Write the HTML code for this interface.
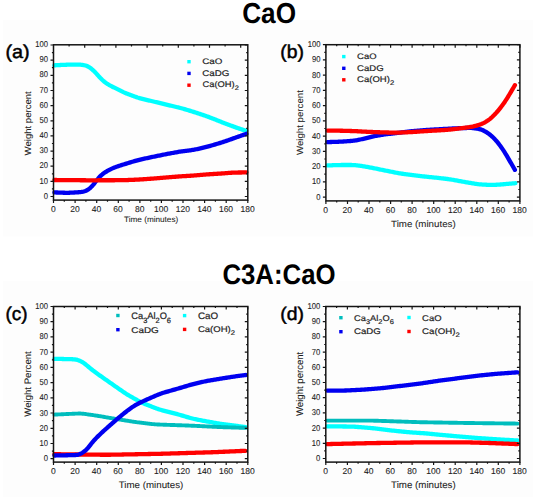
<!DOCTYPE html><html><head><meta charset="utf-8"><style>html,body{margin:0;padding:0;background:#fff;width:533px;height:497px;overflow:hidden}svg{display:block}text{font-family:"Liberation Sans",sans-serif;text-rendering:geometricPrecision}</style></head><body>
<svg width="533" height="497" viewBox="0 0 533 497">
<rect x="0" y="0" width="533" height="497" fill="#ffffff"/>
<rect x="3" y="20" width="530" height="216.5" fill="#fdfdfd"/>
<rect x="3" y="281" width="530" height="216" fill="#fdfdfd"/>
<g fill="none" stroke-width="4.3" stroke-linecap="round" stroke-linejoin="round">
<path d="M54.4,65.30 L55.4,65.25 L56.4,65.20 L57.4,65.14 L58.4,65.09 L59.4,65.04 L60.4,65.00 L61.4,64.95 L62.4,64.91 L63.4,64.87 L64.4,64.83 L65.4,64.79 L66.4,64.75 L67.4,64.72 L68.4,64.70 L69.4,64.68 L70.4,64.66 L71.4,64.65 L72.4,64.63 L73.4,64.62 L74.4,64.61 L75.4,64.61 L76.4,64.61 L77.4,64.61 L78.4,64.62 L79.4,64.65 L80.4,64.70 L81.4,64.78 L82.4,64.89 L83.4,65.04 L84.4,65.24 L85.4,65.50 L86.4,65.83 L87.4,66.24 L88.4,66.74 L89.4,67.33 L90.4,68.02 L91.4,68.79 L92.4,69.63 L93.4,70.55 L94.4,71.53 L95.4,72.56 L96.4,73.63 L97.4,74.73 L98.4,75.84 L99.4,76.93 L100.4,78.00 L101.4,79.02 L102.4,80.00 L103.4,80.90 L104.4,81.75 L105.4,82.53 L106.4,83.25 L107.4,83.92 L108.4,84.54 L109.4,85.13 L110.4,85.69 L111.4,86.21 L112.4,86.71 L113.4,87.20 L114.4,87.68 L115.4,88.15 L116.4,88.63 L117.4,89.13 L118.4,89.63 L119.4,90.15 L120.4,90.66 L121.4,91.18 L122.4,91.68 L123.4,92.16 L124.4,92.61 L125.4,93.04 L126.4,93.45 L127.4,93.84 L128.4,94.22 L129.4,94.60 L130.4,94.97 L131.4,95.34 L132.4,95.71 L133.4,96.08 L134.4,96.45 L135.4,96.81 L136.4,97.15 L137.4,97.49 L138.4,97.80 L139.4,98.09 L140.4,98.36 L141.4,98.62 L142.4,98.87 L143.4,99.11 L144.4,99.35 L145.4,99.59 L146.4,99.83 L147.4,100.06 L148.4,100.30 L149.4,100.54 L150.4,100.78 L151.4,101.01 L152.4,101.25 L153.4,101.49 L154.4,101.73 L155.4,101.97 L156.4,102.20 L157.4,102.44 L158.4,102.68 L159.4,102.92 L160.4,103.15 L161.4,103.39 L162.4,103.63 L163.4,103.87 L164.4,104.11 L165.4,104.34 L166.4,104.58 L167.4,104.82 L168.4,105.06 L169.4,105.30 L170.4,105.54 L171.4,105.78 L172.4,106.02 L173.4,106.26 L174.4,106.50 L175.4,106.74 L176.4,106.98 L177.4,107.22 L178.4,107.46 L179.4,107.72 L180.4,107.98 L181.4,108.24 L182.4,108.52 L183.4,108.81 L184.4,109.11 L185.4,109.41 L186.4,109.71 L187.4,110.01 L188.4,110.31 L189.4,110.62 L190.4,110.92 L191.4,111.23 L192.4,111.53 L193.4,111.85 L194.4,112.16 L195.4,112.49 L196.4,112.81 L197.4,113.14 L198.4,113.48 L199.4,113.81 L200.4,114.15 L201.4,114.48 L202.4,114.82 L203.4,115.16 L204.4,115.49 L205.4,115.83 L206.4,116.18 L207.4,116.53 L208.4,116.89 L209.4,117.26 L210.4,117.64 L211.4,118.03 L212.4,118.42 L213.4,118.81 L214.4,119.21 L215.4,119.61 L216.4,120.01 L217.4,120.41 L218.4,120.81 L219.4,121.20 L220.4,121.60 L221.4,121.99 L222.4,122.38 L223.4,122.77 L224.4,123.15 L225.4,123.53 L226.4,123.90 L227.4,124.28 L228.4,124.65 L229.4,125.03 L230.4,125.40 L231.4,125.77 L232.4,126.14 L233.4,126.52 L234.4,126.88 L235.4,127.25 L236.4,127.60 L237.4,127.95 L238.4,128.30 L239.4,128.63 L240.4,128.96 L241.4,129.29 L242.4,129.61 L243.4,129.93 L244.4,130.25 L245.4,130.58 L246.4,130.90" stroke="#00ffff"/>
<path d="M54.4,192.40 L55.4,192.44 L56.4,192.48 L57.4,192.52 L58.4,192.56 L59.4,192.59 L60.4,192.63 L61.4,192.67 L62.4,192.71 L63.4,192.74 L64.4,192.77 L65.4,192.80 L66.4,192.81 L67.4,192.81 L68.4,192.79 L69.4,192.76 L70.4,192.71 L71.4,192.67 L72.4,192.61 L73.4,192.56 L74.4,192.50 L75.4,192.45 L76.4,192.39 L77.4,192.33 L78.4,192.26 L79.4,192.17 L80.4,192.07 L81.4,191.94 L82.4,191.77 L83.4,191.56 L84.4,191.29 L85.4,190.97 L86.4,190.55 L87.4,190.04 L88.4,189.41 L89.4,188.65 L90.4,187.78 L91.4,186.80 L92.4,185.71 L93.4,184.54 L94.4,183.30 L95.4,182.02 L96.4,180.73 L97.4,179.46 L98.4,178.24 L99.4,177.10 L100.4,176.06 L101.4,175.12 L102.4,174.29 L103.4,173.53 L104.4,172.82 L105.4,172.17 L106.4,171.55 L107.4,170.96 L108.4,170.40 L109.4,169.86 L110.4,169.34 L111.4,168.84 L112.4,168.37 L113.4,167.94 L114.4,167.53 L115.4,167.16 L116.4,166.81 L117.4,166.47 L118.4,166.14 L119.4,165.81 L120.4,165.48 L121.4,165.16 L122.4,164.83 L123.4,164.52 L124.4,164.20 L125.4,163.89 L126.4,163.58 L127.4,163.28 L128.4,162.98 L129.4,162.68 L130.4,162.38 L131.4,162.07 L132.4,161.77 L133.4,161.48 L134.4,161.18 L135.4,160.88 L136.4,160.60 L137.4,160.32 L138.4,160.06 L139.4,159.81 L140.4,159.57 L141.4,159.34 L142.4,159.12 L143.4,158.90 L144.4,158.68 L145.4,158.46 L146.4,158.24 L147.4,158.03 L148.4,157.81 L149.4,157.60 L150.4,157.38 L151.4,157.17 L152.4,156.96 L153.4,156.75 L154.4,156.54 L155.4,156.33 L156.4,156.13 L157.4,155.93 L158.4,155.72 L159.4,155.52 L160.4,155.32 L161.4,155.12 L162.4,154.91 L163.4,154.71 L164.4,154.51 L165.4,154.31 L166.4,154.12 L167.4,153.92 L168.4,153.73 L169.4,153.55 L170.4,153.36 L171.4,153.18 L172.4,152.99 L173.4,152.81 L174.4,152.63 L175.4,152.44 L176.4,152.26 L177.4,152.08 L178.4,151.91 L179.4,151.73 L180.4,151.57 L181.4,151.42 L182.4,151.27 L183.4,151.14 L184.4,151.01 L185.4,150.88 L186.4,150.76 L187.4,150.64 L188.4,150.51 L189.4,150.39 L190.4,150.27 L191.4,150.13 L192.4,149.99 L193.4,149.84 L194.4,149.67 L195.4,149.48 L196.4,149.27 L197.4,149.05 L198.4,148.82 L199.4,148.59 L200.4,148.35 L201.4,148.11 L202.4,147.87 L203.4,147.64 L204.4,147.40 L205.4,147.15 L206.4,146.91 L207.4,146.65 L208.4,146.39 L209.4,146.12 L210.4,145.84 L211.4,145.55 L212.4,145.25 L213.4,144.96 L214.4,144.66 L215.4,144.36 L216.4,144.05 L217.4,143.75 L218.4,143.45 L219.4,143.15 L220.4,142.84 L221.4,142.53 L222.4,142.21 L223.4,141.88 L224.4,141.55 L225.4,141.21 L226.4,140.86 L227.4,140.51 L228.4,140.16 L229.4,139.81 L230.4,139.46 L231.4,139.11 L232.4,138.75 L233.4,138.40 L234.4,138.05 L235.4,137.70 L236.4,137.34 L237.4,136.99 L238.4,136.64 L239.4,136.28 L240.4,135.93 L241.4,135.57 L242.4,135.22 L243.4,134.86 L244.4,134.51 L245.4,134.15 L246.4,133.80" stroke="#0000f0"/>
<path d="M54.4,180.00 L55.4,180.01 L56.4,180.02 L57.4,180.03 L58.4,180.03 L59.4,180.04 L60.4,180.05 L61.4,180.06 L62.4,180.07 L63.4,180.08 L64.4,180.09 L65.4,180.10 L66.4,180.10 L67.4,180.11 L68.4,180.12 L69.4,180.13 L70.4,180.14 L71.4,180.15 L72.4,180.16 L73.4,180.17 L74.4,180.17 L75.4,180.18 L76.4,180.19 L77.4,180.20 L78.4,180.21 L79.4,180.22 L80.4,180.23 L81.4,180.24 L82.4,180.24 L83.4,180.25 L84.4,180.26 L85.4,180.27 L86.4,180.28 L87.4,180.28 L88.4,180.29 L89.4,180.29 L90.4,180.29 L91.4,180.29 L92.4,180.29 L93.4,180.29 L94.4,180.28 L95.4,180.28 L96.4,180.28 L97.4,180.28 L98.4,180.27 L99.4,180.27 L100.4,180.27 L101.4,180.26 L102.4,180.26 L103.4,180.26 L104.4,180.26 L105.4,180.25 L106.4,180.25 L107.4,180.25 L108.4,180.24 L109.4,180.24 L110.4,180.24 L111.4,180.24 L112.4,180.23 L113.4,180.23 L114.4,180.23 L115.4,180.22 L116.4,180.22 L117.4,180.22 L118.4,180.22 L119.4,180.21 L120.4,180.21 L121.4,180.20 L122.4,180.19 L123.4,180.17 L124.4,180.15 L125.4,180.12 L126.4,180.09 L127.4,180.05 L128.4,180.01 L129.4,179.97 L130.4,179.93 L131.4,179.89 L132.4,179.85 L133.4,179.81 L134.4,179.76 L135.4,179.72 L136.4,179.67 L137.4,179.62 L138.4,179.57 L139.4,179.51 L140.4,179.45 L141.4,179.38 L142.4,179.31 L143.4,179.24 L144.4,179.17 L145.4,179.10 L146.4,179.03 L147.4,178.96 L148.4,178.89 L149.4,178.82 L150.4,178.75 L151.4,178.68 L152.4,178.60 L153.4,178.52 L154.4,178.44 L155.4,178.36 L156.4,178.28 L157.4,178.20 L158.4,178.11 L159.4,178.03 L160.4,177.95 L161.4,177.86 L162.4,177.78 L163.4,177.69 L164.4,177.61 L165.4,177.53 L166.4,177.45 L167.4,177.37 L168.4,177.29 L169.4,177.21 L170.4,177.13 L171.4,177.05 L172.4,176.97 L173.4,176.90 L174.4,176.82 L175.4,176.74 L176.4,176.66 L177.4,176.59 L178.4,176.51 L179.4,176.44 L180.4,176.37 L181.4,176.30 L182.4,176.23 L183.4,176.17 L184.4,176.11 L185.4,176.05 L186.4,176.00 L187.4,175.94 L188.4,175.88 L189.4,175.82 L190.4,175.76 L191.4,175.70 L192.4,175.63 L193.4,175.56 L194.4,175.48 L195.4,175.40 L196.4,175.32 L197.4,175.23 L198.4,175.14 L199.4,175.05 L200.4,174.96 L201.4,174.87 L202.4,174.78 L203.4,174.69 L204.4,174.61 L205.4,174.52 L206.4,174.45 L207.4,174.37 L208.4,174.30 L209.4,174.24 L210.4,174.18 L211.4,174.11 L212.4,174.05 L213.4,173.99 L214.4,173.93 L215.4,173.87 L216.4,173.81 L217.4,173.75 L218.4,173.69 L219.4,173.62 L220.4,173.56 L221.4,173.49 L222.4,173.42 L223.4,173.34 L224.4,173.27 L225.4,173.19 L226.4,173.12 L227.4,173.04 L228.4,172.97 L229.4,172.90 L230.4,172.83 L231.4,172.76 L232.4,172.70 L233.4,172.66 L234.4,172.62 L235.4,172.58 L236.4,172.56 L237.4,172.54 L238.4,172.52 L239.4,172.51 L240.4,172.49 L241.4,172.48 L242.4,172.46 L243.4,172.45 L244.4,172.43 L245.4,172.42 L246.4,172.40" stroke="#ff0000"/>
</g>
<g stroke="#141414" fill="none">
<rect x="53.50" y="44.80" width="194.30" height="155.30" stroke-width="1.5"/>
<path d="M50.5,196.5H53.5 M247.8,196.5H244.8 M51.9,188.9H53.5 M247.8,188.9H246.2 M50.5,181.3H53.5 M247.8,181.3H244.8 M51.9,173.8H53.5 M247.8,173.8H246.2 M50.5,166.2H53.5 M247.8,166.2H244.8 M51.9,158.6H53.5 M247.8,158.6H246.2 M50.5,151.1H53.5 M247.8,151.1H244.8 M51.9,143.5H53.5 M247.8,143.5H246.2 M50.5,135.9H53.5 M247.8,135.9H244.8 M51.9,128.3H53.5 M247.8,128.3H246.2 M50.5,120.8H53.5 M247.8,120.8H244.8 M51.9,113.2H53.5 M247.8,113.2H246.2 M50.5,105.6H53.5 M247.8,105.6H244.8 M51.9,98.0H53.5 M247.8,98.0H246.2 M50.5,90.5H53.5 M247.8,90.5H244.8 M51.9,82.9H53.5 M247.8,82.9H246.2 M50.5,75.3H53.5 M247.8,75.3H244.8 M51.9,67.7H53.5 M247.8,67.7H246.2 M50.5,60.2H53.5 M247.8,60.2H244.8 M51.9,52.6H53.5 M247.8,52.6H246.2 M50.5,45.0H53.5 M247.8,45.0H244.8 M53.5,200.1V203.1 M64.3,200.1V201.7 M75.1,200.1V203.1 M85.9,200.1V201.7 M96.7,200.1V203.1 M107.5,200.1V201.7 M118.3,200.1V203.1 M129.1,200.1V201.7 M139.9,200.1V203.1 M150.7,200.1V201.7 M161.4,200.1V203.1 M172.2,200.1V201.7 M183.0,200.1V203.1 M193.8,200.1V201.7 M204.6,200.1V203.1 M215.4,200.1V201.7 M226.2,200.1V203.1 M237.0,200.1V201.7 M247.8,200.1V203.1 M69.1,44.8V46.4 M84.7,44.8V47.8 M100.3,44.8V46.4 M115.9,44.8V47.8 M131.5,44.8V46.4 M147.1,44.8V47.8 M162.7,44.8V46.4 M178.3,44.8V47.8 M193.9,44.8V46.4 M209.5,44.8V47.8 M225.1,44.8V46.4 M240.7,44.8V47.8" stroke-width="1.2"/>
</g>
<g font-size="8.5" fill="#1e1e1e" stroke="#1e1e1e" stroke-width="0.1">
<text transform="translate(48.00,198.65) scale(0.9,1)" text-anchor="end">0</text>
<text transform="translate(48.00,183.50) scale(0.9,1)" text-anchor="end">10</text>
<text transform="translate(48.00,168.35) scale(0.9,1)" text-anchor="end">20</text>
<text transform="translate(48.00,153.20) scale(0.9,1)" text-anchor="end">30</text>
<text transform="translate(48.00,138.05) scale(0.9,1)" text-anchor="end">40</text>
<text transform="translate(48.00,122.90) scale(0.9,1)" text-anchor="end">50</text>
<text transform="translate(48.00,107.75) scale(0.9,1)" text-anchor="end">60</text>
<text transform="translate(48.00,92.60) scale(0.9,1)" text-anchor="end">70</text>
<text transform="translate(48.00,77.45) scale(0.9,1)" text-anchor="end">80</text>
<text transform="translate(48.00,62.30) scale(0.9,1)" text-anchor="end">90</text>
<text transform="translate(48.00,47.15) scale(0.9,1)" text-anchor="end">100</text>
<text x="53.3" y="211.9" text-anchor="middle">0</text>
<text x="74.9" y="211.9" text-anchor="middle">20</text>
<text x="96.5" y="211.9" text-anchor="middle">40</text>
<text x="118.1" y="211.9" text-anchor="middle">60</text>
<text x="139.7" y="211.9" text-anchor="middle">80</text>
<text x="161.2" y="211.9" text-anchor="middle">100</text>
<text x="182.8" y="211.9" text-anchor="middle">120</text>
<text x="204.4" y="211.9" text-anchor="middle">140</text>
<text x="226.0" y="211.9" text-anchor="middle">160</text>
<text x="247.6" y="211.9" text-anchor="middle">180</text>
</g>
<g fill="none" stroke-width="4.3" stroke-linecap="round" stroke-linejoin="round">
<path d="M327.4,142.10 L328.4,142.07 L329.4,142.04 L330.4,142.01 L331.4,141.98 L332.4,141.94 L333.4,141.91 L334.4,141.88 L335.4,141.85 L336.4,141.82 L337.4,141.78 L338.4,141.75 L339.4,141.70 L340.4,141.66 L341.4,141.60 L342.4,141.54 L343.4,141.48 L344.4,141.41 L345.4,141.34 L346.4,141.27 L347.4,141.20 L348.4,141.13 L349.4,141.06 L350.4,140.99 L351.4,140.91 L352.4,140.82 L353.4,140.71 L354.4,140.59 L355.4,140.44 L356.4,140.27 L357.4,140.09 L358.4,139.89 L359.4,139.69 L360.4,139.48 L361.4,139.27 L362.4,139.05 L363.4,138.83 L364.4,138.60 L365.4,138.36 L366.4,138.12 L367.4,137.87 L368.4,137.62 L369.4,137.36 L370.4,137.11 L371.4,136.87 L372.4,136.63 L373.4,136.41 L374.4,136.20 L375.4,136.00 L376.4,135.81 L377.4,135.63 L378.4,135.45 L379.4,135.27 L380.4,135.10 L381.4,134.93 L382.4,134.77 L383.4,134.62 L384.4,134.48 L385.4,134.35 L386.4,134.23 L387.4,134.11 L388.4,133.99 L389.4,133.87 L390.4,133.76 L391.4,133.64 L392.4,133.53 L393.4,133.41 L394.4,133.30 L395.4,133.18 L396.4,133.06 L397.4,132.94 L398.4,132.82 L399.4,132.70 L400.4,132.57 L401.4,132.45 L402.4,132.32 L403.4,132.19 L404.4,132.07 L405.4,131.94 L406.4,131.82 L407.4,131.69 L408.4,131.57 L409.4,131.45 L410.4,131.34 L411.4,131.23 L412.4,131.13 L413.4,131.04 L414.4,130.95 L415.4,130.86 L416.4,130.77 L417.4,130.69 L418.4,130.60 L419.4,130.52 L420.4,130.44 L421.4,130.35 L422.4,130.27 L423.4,130.19 L424.4,130.11 L425.4,130.04 L426.4,129.97 L427.4,129.91 L428.4,129.85 L429.4,129.79 L430.4,129.73 L431.4,129.68 L432.4,129.62 L433.4,129.56 L434.4,129.51 L435.4,129.45 L436.4,129.40 L437.4,129.34 L438.4,129.28 L439.4,129.23 L440.4,129.17 L441.4,129.12 L442.4,129.06 L443.4,129.00 L444.4,128.95 L445.4,128.89 L446.4,128.83 L447.4,128.78 L448.4,128.72 L449.4,128.67 L450.4,128.61 L451.4,128.56 L452.4,128.50 L453.4,128.45 L454.4,128.41 L455.4,128.37 L456.4,128.33 L457.4,128.29 L458.4,128.25 L459.4,128.22 L460.4,128.18 L461.4,128.15 L462.4,128.11 L463.4,128.08 L464.4,128.04 L465.4,128.01 L466.4,127.98 L467.4,127.95 L468.4,127.93 L469.4,127.92 L470.4,127.93 L471.4,127.97 L472.4,128.04 L473.4,128.13 L474.4,128.24 L475.4,128.37 L476.4,128.51 L477.4,128.66 L478.4,128.84 L479.4,129.05 L480.4,129.32 L481.4,129.65 L482.4,130.05 L483.4,130.52 L484.4,131.04 L485.4,131.61 L486.4,132.21 L487.4,132.84 L488.4,133.51 L489.4,134.24 L490.4,135.03 L491.4,135.88 L492.4,136.80 L493.4,137.77 L494.4,138.78 L495.4,139.85 L496.4,140.97 L497.4,142.15 L498.4,143.39 L499.4,144.69 L500.4,146.05 L501.4,147.44 L502.4,148.88 L503.4,150.37 L504.4,151.92 L505.4,153.52 L506.4,155.18 L507.4,156.88 L508.4,158.60 L509.4,160.33 L510.4,162.06 L511.4,163.79 L512.4,165.52 L513.4,167.24 L514.4,168.97 L514.9,169.83" stroke="#0000f0"/>
<path d="M327.4,130.70 L328.4,130.70 L329.4,130.70 L330.4,130.70 L331.4,130.70 L332.4,130.70 L333.4,130.70 L334.4,130.70 L335.4,130.70 L336.4,130.70 L337.4,130.70 L338.4,130.71 L339.4,130.72 L340.4,130.73 L341.4,130.75 L342.4,130.77 L343.4,130.79 L344.4,130.82 L345.4,130.84 L346.4,130.87 L347.4,130.90 L348.4,130.93 L349.4,130.95 L350.4,130.98 L351.4,131.01 L352.4,131.05 L353.4,131.08 L354.4,131.12 L355.4,131.16 L356.4,131.21 L357.4,131.26 L358.4,131.31 L359.4,131.37 L360.4,131.42 L361.4,131.48 L362.4,131.54 L363.4,131.59 L364.4,131.65 L365.4,131.70 L366.4,131.76 L367.4,131.81 L368.4,131.86 L369.4,131.90 L370.4,131.94 L371.4,131.98 L372.4,132.02 L373.4,132.06 L374.4,132.09 L375.4,132.13 L376.4,132.16 L377.4,132.20 L378.4,132.23 L379.4,132.27 L380.4,132.30 L381.4,132.34 L382.4,132.37 L383.4,132.39 L384.4,132.42 L385.4,132.45 L386.4,132.47 L387.4,132.49 L388.4,132.51 L389.4,132.54 L390.4,132.56 L391.4,132.58 L392.4,132.60 L393.4,132.62 L394.4,132.63 L395.4,132.64 L396.4,132.64 L397.4,132.63 L398.4,132.61 L399.4,132.59 L400.4,132.55 L401.4,132.51 L402.4,132.47 L403.4,132.43 L404.4,132.39 L405.4,132.35 L406.4,132.31 L407.4,132.26 L408.4,132.22 L409.4,132.17 L410.4,132.12 L411.4,132.07 L412.4,132.01 L413.4,131.95 L414.4,131.88 L415.4,131.81 L416.4,131.74 L417.4,131.67 L418.4,131.60 L419.4,131.53 L420.4,131.46 L421.4,131.39 L422.4,131.33 L423.4,131.26 L424.4,131.19 L425.4,131.13 L426.4,131.06 L427.4,131.00 L428.4,130.95 L429.4,130.89 L430.4,130.83 L431.4,130.78 L432.4,130.72 L433.4,130.66 L434.4,130.61 L435.4,130.55 L436.4,130.49 L437.4,130.44 L438.4,130.38 L439.4,130.32 L440.4,130.26 L441.4,130.19 L442.4,130.12 L443.4,130.06 L444.4,129.99 L445.4,129.92 L446.4,129.85 L447.4,129.77 L448.4,129.69 L449.4,129.61 L450.4,129.51 L451.4,129.41 L452.4,129.30 L453.4,129.19 L454.4,129.08 L455.4,128.96 L456.4,128.84 L457.4,128.72 L458.4,128.60 L459.4,128.48 L460.4,128.36 L461.4,128.24 L462.4,128.12 L463.4,127.99 L464.4,127.86 L465.4,127.72 L466.4,127.58 L467.4,127.43 L468.4,127.28 L469.4,127.13 L470.4,126.97 L471.4,126.81 L472.4,126.63 L473.4,126.43 L474.4,126.20 L475.4,125.95 L476.4,125.67 L477.4,125.37 L478.4,125.05 L479.4,124.71 L480.4,124.36 L481.4,123.97 L482.4,123.55 L483.4,123.08 L484.4,122.57 L485.4,122.02 L486.4,121.42 L487.4,120.79 L488.4,120.11 L489.4,119.37 L490.4,118.57 L491.4,117.70 L492.4,116.77 L493.4,115.79 L494.4,114.78 L495.4,113.72 L496.4,112.63 L497.4,111.49 L498.4,110.31 L499.4,109.09 L500.4,107.83 L501.4,106.54 L502.4,105.21 L503.4,103.84 L504.4,102.40 L505.4,100.91 L506.4,99.37 L507.4,97.78 L508.4,96.16 L509.4,94.51 L510.4,92.84 L511.4,91.15 L512.4,89.45 L513.4,87.74 L514.4,86.03 L514.9,85.17" stroke="#ff0000"/>
<path d="M327.4,165.40 L328.4,165.37 L329.4,165.34 L330.4,165.31 L331.4,165.28 L332.4,165.24 L333.4,165.21 L334.4,165.18 L335.4,165.15 L336.4,165.12 L337.4,165.09 L338.4,165.07 L339.4,165.05 L340.4,165.03 L341.4,165.02 L342.4,165.01 L343.4,165.00 L344.4,165.00 L345.4,165.00 L346.4,165.00 L347.4,165.00 L348.4,165.00 L349.4,165.00 L350.4,165.01 L351.4,165.02 L352.4,165.04 L353.4,165.07 L354.4,165.13 L355.4,165.20 L356.4,165.30 L357.4,165.41 L358.4,165.54 L359.4,165.68 L360.4,165.82 L361.4,165.96 L362.4,166.11 L363.4,166.26 L364.4,166.42 L365.4,166.59 L366.4,166.77 L367.4,166.95 L368.4,167.14 L369.4,167.33 L370.4,167.52 L371.4,167.71 L372.4,167.91 L373.4,168.10 L374.4,168.30 L375.4,168.50 L376.4,168.70 L377.4,168.90 L378.4,169.11 L379.4,169.32 L380.4,169.52 L381.4,169.73 L382.4,169.94 L383.4,170.15 L384.4,170.36 L385.4,170.56 L386.4,170.77 L387.4,170.97 L388.4,171.17 L389.4,171.37 L390.4,171.57 L391.4,171.76 L392.4,171.96 L393.4,172.16 L394.4,172.35 L395.4,172.55 L396.4,172.74 L397.4,172.93 L398.4,173.11 L399.4,173.29 L400.4,173.45 L401.4,173.60 L402.4,173.75 L403.4,173.88 L404.4,174.02 L405.4,174.15 L406.4,174.28 L407.4,174.42 L408.4,174.55 L409.4,174.68 L410.4,174.81 L411.4,174.94 L412.4,175.08 L413.4,175.21 L414.4,175.34 L415.4,175.47 L416.4,175.60 L417.4,175.73 L418.4,175.85 L419.4,175.97 L420.4,176.08 L421.4,176.19 L422.4,176.30 L423.4,176.40 L424.4,176.51 L425.4,176.61 L426.4,176.71 L427.4,176.81 L428.4,176.91 L429.4,177.02 L430.4,177.12 L431.4,177.22 L432.4,177.32 L433.4,177.42 L434.4,177.52 L435.4,177.63 L436.4,177.73 L437.4,177.83 L438.4,177.94 L439.4,178.05 L440.4,178.16 L441.4,178.28 L442.4,178.40 L443.4,178.51 L444.4,178.63 L445.4,178.75 L446.4,178.88 L447.4,179.00 L448.4,179.13 L449.4,179.27 L450.4,179.42 L451.4,179.58 L452.4,179.75 L453.4,179.93 L454.4,180.11 L455.4,180.29 L456.4,180.47 L457.4,180.65 L458.4,180.84 L459.4,181.02 L460.4,181.20 L461.4,181.38 L462.4,181.57 L463.4,181.75 L464.4,181.93 L465.4,182.11 L466.4,182.29 L467.4,182.46 L468.4,182.63 L469.4,182.80 L470.4,182.97 L471.4,183.13 L472.4,183.29 L473.4,183.46 L474.4,183.61 L475.4,183.77 L476.4,183.92 L477.4,184.05 L478.4,184.18 L479.4,184.28 L480.4,184.38 L481.4,184.46 L482.4,184.53 L483.4,184.59 L484.4,184.65 L485.4,184.71 L486.4,184.77 L487.4,184.82 L488.4,184.86 L489.4,184.89 L490.4,184.90 L491.4,184.90 L492.4,184.88 L493.4,184.85 L494.4,184.82 L495.4,184.78 L496.4,184.74 L497.4,184.69 L498.4,184.64 L499.4,184.58 L500.4,184.51 L501.4,184.44 L502.4,184.35 L503.4,184.26 L504.4,184.17 L505.4,184.07 L506.4,183.98 L507.4,183.89 L508.4,183.80 L509.4,183.72 L510.4,183.63 L511.4,183.55 L512.4,183.47 L513.4,183.39 L514.4,183.31 L515.4,183.22" stroke="#00ffff"/>
</g>
<g stroke="#141414" fill="none">
<rect x="325.90" y="44.70" width="194.00" height="156.20" stroke-width="1.5"/>
<path d="M322.9,197.1H325.9 M519.9,197.1H516.9 M324.3,189.5H325.9 M519.9,189.5H518.3 M322.9,181.9H325.9 M519.9,181.9H516.9 M324.3,174.2H325.9 M519.9,174.2H518.3 M322.9,166.6H325.9 M519.9,166.6H516.9 M324.3,159.0H325.9 M519.9,159.0H518.3 M322.9,151.4H325.9 M519.9,151.4H516.9 M324.3,143.8H325.9 M519.9,143.8H518.3 M322.9,136.1H325.9 M519.9,136.1H516.9 M324.3,128.5H325.9 M519.9,128.5H518.3 M322.9,120.9H325.9 M519.9,120.9H516.9 M324.3,113.3H325.9 M519.9,113.3H518.3 M322.9,105.7H325.9 M519.9,105.7H516.9 M324.3,98.0H325.9 M519.9,98.0H518.3 M322.9,90.4H325.9 M519.9,90.4H516.9 M324.3,82.8H325.9 M519.9,82.8H518.3 M322.9,75.2H325.9 M519.9,75.2H516.9 M324.3,67.6H325.9 M519.9,67.6H518.3 M322.9,59.9H325.9 M519.9,59.9H516.9 M324.3,52.3H325.9 M519.9,52.3H518.3 M322.9,44.7H325.9 M519.9,44.7H516.9 M325.9,200.9V203.9 M325.9,44.7V47.7 M336.7,200.9V202.5 M336.7,44.7V46.3 M347.5,200.9V203.9 M347.5,44.7V47.7 M358.2,200.9V202.5 M358.2,44.7V46.3 M369.0,200.9V203.9 M369.0,44.7V47.7 M379.8,200.9V202.5 M379.8,44.7V46.3 M390.6,200.9V203.9 M390.6,44.7V47.7 M401.3,200.9V202.5 M401.3,44.7V46.3 M412.1,200.9V203.9 M412.1,44.7V47.7 M422.9,200.9V202.5 M422.9,44.7V46.3 M433.7,200.9V203.9 M433.7,44.7V47.7 M444.5,200.9V202.5 M444.5,44.7V46.3 M455.2,200.9V203.9 M455.2,44.7V47.7 M466.0,200.9V202.5 M466.0,44.7V46.3 M476.8,200.9V203.9 M476.8,44.7V47.7 M487.6,200.9V202.5 M487.6,44.7V46.3 M498.3,200.9V203.9 M498.3,44.7V47.7 M509.1,200.9V202.5 M509.1,44.7V46.3 M519.9,200.9V203.9 M519.9,44.7V47.7" stroke-width="1.2"/>
</g>
<g font-size="8.5" fill="#1e1e1e" stroke="#1e1e1e" stroke-width="0.1">
<text transform="translate(320.40,199.65) scale(0.9,1)" text-anchor="end">0</text>
<text transform="translate(320.40,184.41) scale(0.9,1)" text-anchor="end">10</text>
<text transform="translate(320.40,169.17) scale(0.9,1)" text-anchor="end">20</text>
<text transform="translate(320.40,153.93) scale(0.9,1)" text-anchor="end">30</text>
<text transform="translate(320.40,138.69) scale(0.9,1)" text-anchor="end">40</text>
<text transform="translate(320.40,123.45) scale(0.9,1)" text-anchor="end">50</text>
<text transform="translate(320.40,108.21) scale(0.9,1)" text-anchor="end">60</text>
<text transform="translate(320.40,92.97) scale(0.9,1)" text-anchor="end">70</text>
<text transform="translate(320.40,77.73) scale(0.9,1)" text-anchor="end">80</text>
<text transform="translate(320.40,62.49) scale(0.9,1)" text-anchor="end">90</text>
<text transform="translate(320.40,47.25) scale(0.9,1)" text-anchor="end">100</text>
<text x="325.7" y="212.7" text-anchor="middle">0</text>
<text x="347.3" y="212.7" text-anchor="middle">20</text>
<text x="368.8" y="212.7" text-anchor="middle">40</text>
<text x="390.4" y="212.7" text-anchor="middle">60</text>
<text x="411.9" y="212.7" text-anchor="middle">80</text>
<text x="433.5" y="212.7" text-anchor="middle">100</text>
<text x="455.0" y="212.7" text-anchor="middle">120</text>
<text x="476.6" y="212.7" text-anchor="middle">140</text>
<text x="498.1" y="212.7" text-anchor="middle">160</text>
<text x="519.7" y="212.7" text-anchor="middle">180</text>
</g>
<g fill="none" stroke-width="4.3" stroke-linecap="round" stroke-linejoin="round">
<path d="M54.4,358.80 L55.4,358.82 L56.4,358.85 L57.4,358.87 L58.4,358.89 L59.4,358.91 L60.4,358.94 L61.4,358.96 L62.4,358.98 L63.4,359.00 L64.4,359.03 L65.4,359.05 L66.4,359.07 L67.4,359.09 L68.4,359.12 L69.4,359.14 L70.4,359.16 L71.4,359.19 L72.4,359.23 L73.4,359.28 L74.4,359.36 L75.4,359.50 L76.4,359.68 L77.4,359.94 L78.4,360.26 L79.4,360.64 L80.4,361.08 L81.4,361.58 L82.4,362.14 L83.4,362.77 L84.4,363.47 L85.4,364.24 L86.4,365.05 L87.4,365.89 L88.4,366.74 L89.4,367.60 L90.4,368.44 L91.4,369.26 L92.4,370.05 L93.4,370.83 L94.4,371.57 L95.4,372.31 L96.4,373.03 L97.4,373.74 L98.4,374.46 L99.4,375.17 L100.4,375.87 L101.4,376.58 L102.4,377.29 L103.4,377.99 L104.4,378.70 L105.4,379.40 L106.4,380.10 L107.4,380.80 L108.4,381.50 L109.4,382.20 L110.4,382.90 L111.4,383.60 L112.4,384.30 L113.4,384.99 L114.4,385.69 L115.4,386.39 L116.4,387.08 L117.4,387.78 L118.4,388.48 L119.4,389.17 L120.4,389.87 L121.4,390.57 L122.4,391.26 L123.4,391.95 L124.4,392.63 L125.4,393.30 L126.4,393.95 L127.4,394.58 L128.4,395.18 L129.4,395.77 L130.4,396.35 L131.4,396.92 L132.4,397.48 L133.4,398.04 L134.4,398.60 L135.4,399.16 L136.4,399.72 L137.4,400.27 L138.4,400.83 L139.4,401.37 L140.4,401.89 L141.4,402.39 L142.4,402.87 L143.4,403.32 L144.4,403.74 L145.4,404.15 L146.4,404.55 L147.4,404.95 L148.4,405.34 L149.4,405.73 L150.4,406.12 L151.4,406.51 L152.4,406.90 L153.4,407.29 L154.4,407.68 L155.4,408.06 L156.4,408.43 L157.4,408.79 L158.4,409.14 L159.4,409.46 L160.4,409.76 L161.4,410.04 L162.4,410.31 L163.4,410.57 L164.4,410.83 L165.4,411.08 L166.4,411.34 L167.4,411.59 L168.4,411.85 L169.4,412.11 L170.4,412.36 L171.4,412.62 L172.4,412.87 L173.4,413.13 L174.4,413.38 L175.4,413.64 L176.4,413.91 L177.4,414.18 L178.4,414.46 L179.4,414.74 L180.4,415.03 L181.4,415.33 L182.4,415.62 L183.4,415.92 L184.4,416.22 L185.4,416.53 L186.4,416.83 L187.4,417.12 L188.4,417.42 L189.4,417.71 L190.4,418.00 L191.4,418.27 L192.4,418.52 L193.4,418.76 L194.4,418.98 L195.4,419.19 L196.4,419.40 L197.4,419.60 L198.4,419.79 L199.4,419.99 L200.4,420.19 L201.4,420.38 L202.4,420.58 L203.4,420.77 L204.4,420.96 L205.4,421.15 L206.4,421.34 L207.4,421.53 L208.4,421.71 L209.4,421.89 L210.4,422.06 L211.4,422.24 L212.4,422.41 L213.4,422.59 L214.4,422.76 L215.4,422.94 L216.4,423.11 L217.4,423.28 L218.4,423.45 L219.4,423.62 L220.4,423.78 L221.4,423.93 L222.4,424.07 L223.4,424.21 L224.4,424.34 L225.4,424.47 L226.4,424.60 L227.4,424.72 L228.4,424.85 L229.4,424.98 L230.4,425.10 L231.4,425.23 L232.4,425.36 L233.4,425.49 L234.4,425.61 L235.4,425.74 L236.4,425.87 L237.4,426.00 L238.4,426.13 L239.4,426.26 L240.4,426.39 L241.4,426.52 L242.4,426.65 L243.4,426.78 L244.4,426.91 L245.4,427.04 L245.9,427.10" stroke="#00ffff"/>
<path d="M54.4,414.60 L55.4,414.55 L56.4,414.51 L57.4,414.46 L58.4,414.42 L59.4,414.37 L60.4,414.33 L61.4,414.28 L62.4,414.24 L63.4,414.19 L64.4,414.15 L65.4,414.10 L66.4,414.06 L67.4,414.01 L68.4,413.97 L69.4,413.92 L70.4,413.88 L71.4,413.83 L72.4,413.79 L73.4,413.74 L74.4,413.70 L75.4,413.65 L76.4,413.61 L77.4,413.58 L78.4,413.55 L79.4,413.55 L80.4,413.56 L81.4,413.61 L82.4,413.69 L83.4,413.79 L84.4,413.91 L85.4,414.04 L86.4,414.18 L87.4,414.32 L88.4,414.47 L89.4,414.61 L90.4,414.75 L91.4,414.90 L92.4,415.04 L93.4,415.19 L94.4,415.34 L95.4,415.49 L96.4,415.64 L97.4,415.80 L98.4,415.95 L99.4,416.12 L100.4,416.28 L101.4,416.45 L102.4,416.62 L103.4,416.79 L104.4,416.96 L105.4,417.13 L106.4,417.30 L107.4,417.47 L108.4,417.64 L109.4,417.81 L110.4,417.99 L111.4,418.16 L112.4,418.33 L113.4,418.50 L114.4,418.67 L115.4,418.84 L116.4,419.01 L117.4,419.17 L118.4,419.34 L119.4,419.50 L120.4,419.66 L121.4,419.82 L122.4,419.98 L123.4,420.14 L124.4,420.30 L125.4,420.46 L126.4,420.62 L127.4,420.78 L128.4,420.94 L129.4,421.10 L130.4,421.26 L131.4,421.42 L132.4,421.58 L133.4,421.73 L134.4,421.88 L135.4,422.03 L136.4,422.17 L137.4,422.31 L138.4,422.44 L139.4,422.56 L140.4,422.68 L141.4,422.80 L142.4,422.92 L143.4,423.04 L144.4,423.15 L145.4,423.27 L146.4,423.39 L147.4,423.51 L148.4,423.62 L149.4,423.74 L150.4,423.86 L151.4,423.97 L152.4,424.08 L153.4,424.18 L154.4,424.27 L155.4,424.35 L156.4,424.41 L157.4,424.47 L158.4,424.51 L159.4,424.55 L160.4,424.59 L161.4,424.62 L162.4,424.66 L163.4,424.69 L164.4,424.73 L165.4,424.76 L166.4,424.80 L167.4,424.83 L168.4,424.87 L169.4,424.90 L170.4,424.94 L171.4,424.97 L172.4,425.01 L173.4,425.04 L174.4,425.07 L175.4,425.11 L176.4,425.14 L177.4,425.18 L178.4,425.21 L179.4,425.25 L180.4,425.28 L181.4,425.32 L182.4,425.35 L183.4,425.39 L184.4,425.42 L185.4,425.46 L186.4,425.49 L187.4,425.53 L188.4,425.56 L189.4,425.60 L190.4,425.64 L191.4,425.68 L192.4,425.72 L193.4,425.76 L194.4,425.81 L195.4,425.85 L196.4,425.90 L197.4,425.95 L198.4,426.00 L199.4,426.05 L200.4,426.10 L201.4,426.15 L202.4,426.19 L203.4,426.24 L204.4,426.29 L205.4,426.34 L206.4,426.39 L207.4,426.44 L208.4,426.49 L209.4,426.54 L210.4,426.59 L211.4,426.63 L212.4,426.68 L213.4,426.73 L214.4,426.78 L215.4,426.83 L216.4,426.88 L217.4,426.93 L218.4,426.97 L219.4,427.02 L220.4,427.06 L221.4,427.10 L222.4,427.14 L223.4,427.18 L224.4,427.21 L225.4,427.24 L226.4,427.28 L227.4,427.31 L228.4,427.34 L229.4,427.37 L230.4,427.40 L231.4,427.44 L232.4,427.47 L233.4,427.50 L234.4,427.53 L235.4,427.56 L236.4,427.60 L237.4,427.63 L238.4,427.66 L239.4,427.69 L240.4,427.72 L241.4,427.76 L242.4,427.79 L243.4,427.82 L244.4,427.85 L245.4,427.88 L245.9,427.90" stroke="#00bdbd" stroke-width="3.9"/>
<path d="M54.4,454.20 L55.4,454.21 L56.4,454.22 L57.4,454.24 L58.4,454.25 L59.4,454.26 L60.4,454.27 L61.4,454.28 L62.4,454.29 L63.4,454.31 L64.4,454.32 L65.4,454.33 L66.4,454.34 L67.4,454.35 L68.4,454.36 L69.4,454.38 L70.4,454.39 L71.4,454.40 L72.4,454.41 L73.4,454.42 L74.4,454.43 L75.4,454.45 L76.4,454.46 L77.4,454.47 L78.4,454.48 L79.4,454.49 L80.4,454.50 L81.4,454.52 L82.4,454.53 L83.4,454.54 L84.4,454.55 L85.4,454.56 L86.4,454.57 L87.4,454.58 L88.4,454.59 L89.4,454.60 L90.4,454.62 L91.4,454.63 L92.4,454.64 L93.4,454.65 L94.4,454.66 L95.4,454.67 L96.4,454.68 L97.4,454.69 L98.4,454.70 L99.4,454.72 L100.4,454.73 L101.4,454.74 L102.4,454.75 L103.4,454.76 L104.4,454.77 L105.4,454.77 L106.4,454.77 L107.4,454.77 L108.4,454.76 L109.4,454.75 L110.4,454.73 L111.4,454.72 L112.4,454.70 L113.4,454.68 L114.4,454.66 L115.4,454.64 L116.4,454.62 L117.4,454.60 L118.4,454.59 L119.4,454.57 L120.4,454.55 L121.4,454.53 L122.4,454.51 L123.4,454.49 L124.4,454.47 L125.4,454.45 L126.4,454.44 L127.4,454.42 L128.4,454.40 L129.4,454.38 L130.4,454.36 L131.4,454.34 L132.4,454.32 L133.4,454.30 L134.4,454.29 L135.4,454.27 L136.4,454.25 L137.4,454.23 L138.4,454.21 L139.4,454.19 L140.4,454.17 L141.4,454.15 L142.4,454.14 L143.4,454.12 L144.4,454.10 L145.4,454.08 L146.4,454.06 L147.4,454.04 L148.4,454.02 L149.4,454.00 L150.4,453.99 L151.4,453.97 L152.4,453.95 L153.4,453.93 L154.4,453.91 L155.4,453.89 L156.4,453.87 L157.4,453.85 L158.4,453.83 L159.4,453.81 L160.4,453.79 L161.4,453.76 L162.4,453.73 L163.4,453.71 L164.4,453.68 L165.4,453.65 L166.4,453.62 L167.4,453.59 L168.4,453.56 L169.4,453.53 L170.4,453.50 L171.4,453.47 L172.4,453.44 L173.4,453.41 L174.4,453.38 L175.4,453.35 L176.4,453.32 L177.4,453.29 L178.4,453.26 L179.4,453.23 L180.4,453.20 L181.4,453.17 L182.4,453.14 L183.4,453.11 L184.4,453.08 L185.4,453.05 L186.4,453.02 L187.4,452.99 L188.4,452.96 L189.4,452.93 L190.4,452.90 L191.4,452.87 L192.4,452.84 L193.4,452.81 L194.4,452.78 L195.4,452.75 L196.4,452.72 L197.4,452.69 L198.4,452.66 L199.4,452.63 L200.4,452.60 L201.4,452.57 L202.4,452.54 L203.4,452.51 L204.4,452.48 L205.4,452.45 L206.4,452.42 L207.4,452.39 L208.4,452.36 L209.4,452.33 L210.4,452.29 L211.4,452.26 L212.4,452.23 L213.4,452.19 L214.4,452.16 L215.4,452.12 L216.4,452.07 L217.4,452.03 L218.4,451.99 L219.4,451.95 L220.4,451.90 L221.4,451.86 L222.4,451.81 L223.4,451.77 L224.4,451.73 L225.4,451.68 L226.4,451.64 L227.4,451.59 L228.4,451.55 L229.4,451.51 L230.4,451.46 L231.4,451.42 L232.4,451.37 L233.4,451.33 L234.4,451.29 L235.4,451.24 L236.4,451.20 L237.4,451.16 L238.4,451.11 L239.4,451.07 L240.4,451.02 L241.4,450.98 L242.4,450.94 L243.4,450.89 L244.4,450.85 L245.4,450.80" stroke="#ff0000"/>
<path d="M54.4,455.50 L55.4,455.48 L56.4,455.46 L57.4,455.44 L58.4,455.42 L59.4,455.40 L60.4,455.38 L61.4,455.36 L62.4,455.34 L63.4,455.32 L64.4,455.30 L65.4,455.28 L66.4,455.26 L67.4,455.24 L68.4,455.22 L69.4,455.20 L70.4,455.17 L71.4,455.15 L72.4,455.13 L73.4,455.11 L74.4,455.08 L75.4,455.02 L76.4,454.94 L77.4,454.79 L78.4,454.57 L79.4,454.25 L80.4,453.83 L81.4,453.32 L82.4,452.73 L83.4,452.07 L84.4,451.33 L85.4,450.50 L86.4,449.56 L87.4,448.51 L88.4,447.34 L89.4,446.11 L90.4,444.83 L91.4,443.55 L92.4,442.31 L93.4,441.12 L94.4,439.99 L95.4,438.92 L96.4,437.88 L97.4,436.88 L98.4,435.89 L99.4,434.92 L100.4,433.96 L101.4,433.02 L102.4,432.10 L103.4,431.19 L104.4,430.28 L105.4,429.39 L106.4,428.50 L107.4,427.61 L108.4,426.72 L109.4,425.83 L110.4,424.95 L111.4,424.07 L112.4,423.19 L113.4,422.32 L114.4,421.44 L115.4,420.57 L116.4,419.71 L117.4,418.85 L118.4,418.00 L119.4,417.15 L120.4,416.32 L121.4,415.49 L122.4,414.66 L123.4,413.84 L124.4,413.03 L125.4,412.23 L126.4,411.44 L127.4,410.67 L128.4,409.92 L129.4,409.19 L130.4,408.48 L131.4,407.78 L132.4,407.09 L133.4,406.43 L134.4,405.79 L135.4,405.19 L136.4,404.61 L137.4,404.07 L138.4,403.54 L139.4,403.04 L140.4,402.54 L141.4,402.06 L142.4,401.58 L143.4,401.11 L144.4,400.65 L145.4,400.20 L146.4,399.75 L147.4,399.31 L148.4,398.87 L149.4,398.44 L150.4,398.00 L151.4,397.56 L152.4,397.13 L153.4,396.69 L154.4,396.25 L155.4,395.82 L156.4,395.38 L157.4,394.96 L158.4,394.54 L159.4,394.14 L160.4,393.76 L161.4,393.41 L162.4,393.07 L163.4,392.76 L164.4,392.46 L165.4,392.17 L166.4,391.89 L167.4,391.60 L168.4,391.32 L169.4,391.04 L170.4,390.75 L171.4,390.47 L172.4,390.19 L173.4,389.90 L174.4,389.62 L175.4,389.33 L176.4,389.05 L177.4,388.76 L178.4,388.47 L179.4,388.17 L180.4,387.87 L181.4,387.58 L182.4,387.28 L183.4,386.98 L184.4,386.68 L185.4,386.37 L186.4,386.07 L187.4,385.77 L188.4,385.48 L189.4,385.18 L190.4,384.89 L191.4,384.61 L192.4,384.34 L193.4,384.08 L194.4,383.83 L195.4,383.59 L196.4,383.36 L197.4,383.12 L198.4,382.89 L199.4,382.66 L200.4,382.43 L201.4,382.20 L202.4,381.97 L203.4,381.75 L204.4,381.52 L205.4,381.31 L206.4,381.10 L207.4,380.91 L208.4,380.72 L209.4,380.54 L210.4,380.37 L211.4,380.20 L212.4,380.03 L213.4,379.86 L214.4,379.69 L215.4,379.52 L216.4,379.36 L217.4,379.19 L218.4,379.02 L219.4,378.86 L220.4,378.69 L221.4,378.53 L222.4,378.37 L223.4,378.22 L224.4,378.06 L225.4,377.90 L226.4,377.75 L227.4,377.59 L228.4,377.44 L229.4,377.28 L230.4,377.13 L231.4,376.98 L232.4,376.82 L233.4,376.67 L234.4,376.53 L235.4,376.38 L236.4,376.24 L237.4,376.11 L238.4,375.97 L239.4,375.84 L240.4,375.71 L241.4,375.58 L242.4,375.45 L243.4,375.32 L244.4,375.19 L245.4,375.06 L245.9,375.00" stroke="#0000f0"/>
</g>
<g stroke="#141414" fill="none">
<rect x="53.50" y="306.50" width="194.30" height="155.60" stroke-width="1.5"/>
<path d="M50.5,458.7H53.5 M247.8,458.7H244.8 M51.9,451.1H53.5 M247.8,451.1H246.2 M50.5,443.5H53.5 M247.8,443.5H244.8 M51.9,435.9H53.5 M247.8,435.9H246.2 M50.5,428.3H53.5 M247.8,428.3H244.8 M51.9,420.6H53.5 M247.8,420.6H246.2 M50.5,413.0H53.5 M247.8,413.0H244.8 M51.9,405.4H53.5 M247.8,405.4H246.2 M50.5,397.8H53.5 M247.8,397.8H244.8 M51.9,390.2H53.5 M247.8,390.2H246.2 M50.5,382.6H53.5 M247.8,382.6H244.8 M51.9,375.0H53.5 M247.8,375.0H246.2 M50.5,367.4H53.5 M247.8,367.4H244.8 M51.9,359.8H53.5 M247.8,359.8H246.2 M50.5,352.2H53.5 M247.8,352.2H244.8 M51.9,344.6H53.5 M247.8,344.6H246.2 M50.5,336.9H53.5 M247.8,336.9H244.8 M51.9,329.3H53.5 M247.8,329.3H246.2 M50.5,321.7H53.5 M247.8,321.7H244.8 M51.9,314.1H53.5 M247.8,314.1H246.2 M50.5,306.5H53.5 M247.8,306.5H244.8 M53.5,462.1V465.1 M53.5,306.5V309.5 M64.3,462.1V463.7 M64.3,306.5V308.1 M75.1,462.1V465.1 M75.1,306.5V309.5 M85.9,462.1V463.7 M85.9,306.5V308.1 M96.7,462.1V465.1 M96.7,306.5V309.5 M107.5,462.1V463.7 M107.5,306.5V308.1 M118.3,462.1V465.1 M118.3,306.5V309.5 M129.1,462.1V463.7 M129.1,306.5V308.1 M139.9,462.1V465.1 M139.9,306.5V309.5 M150.7,462.1V463.7 M150.7,306.5V308.1 M161.4,462.1V465.1 M161.4,306.5V309.5 M172.2,462.1V463.7 M172.2,306.5V308.1 M183.0,462.1V465.1 M183.0,306.5V309.5 M193.8,462.1V463.7 M193.8,306.5V308.1 M204.6,462.1V465.1 M204.6,306.5V309.5 M215.4,462.1V463.7 M215.4,306.5V308.1 M226.2,462.1V465.1 M226.2,306.5V309.5 M237.0,462.1V463.7 M237.0,306.5V308.1 M247.8,462.1V465.1 M247.8,306.5V309.5" stroke-width="1.2"/>
</g>
<g font-size="8.5" fill="#1e1e1e" stroke="#1e1e1e" stroke-width="0.1">
<text transform="translate(48.00,461.25) scale(0.9,1)" text-anchor="end">0</text>
<text transform="translate(48.00,446.03) scale(0.9,1)" text-anchor="end">10</text>
<text transform="translate(48.00,430.81) scale(0.9,1)" text-anchor="end">20</text>
<text transform="translate(48.00,415.59) scale(0.9,1)" text-anchor="end">30</text>
<text transform="translate(48.00,400.37) scale(0.9,1)" text-anchor="end">40</text>
<text transform="translate(48.00,385.15) scale(0.9,1)" text-anchor="end">50</text>
<text transform="translate(48.00,369.93) scale(0.9,1)" text-anchor="end">60</text>
<text transform="translate(48.00,354.71) scale(0.9,1)" text-anchor="end">70</text>
<text transform="translate(48.00,339.49) scale(0.9,1)" text-anchor="end">80</text>
<text transform="translate(48.00,324.27) scale(0.9,1)" text-anchor="end">90</text>
<text transform="translate(48.00,309.05) scale(0.9,1)" text-anchor="end">100</text>
<text x="53.3" y="473.9" text-anchor="middle">0</text>
<text x="74.9" y="473.9" text-anchor="middle">20</text>
<text x="96.5" y="473.9" text-anchor="middle">40</text>
<text x="118.1" y="473.9" text-anchor="middle">60</text>
<text x="139.7" y="473.9" text-anchor="middle">80</text>
<text x="161.2" y="473.9" text-anchor="middle">100</text>
<text x="182.8" y="473.9" text-anchor="middle">120</text>
<text x="204.4" y="473.9" text-anchor="middle">140</text>
<text x="226.0" y="473.9" text-anchor="middle">160</text>
<text x="247.6" y="473.9" text-anchor="middle">180</text>
</g>
<g fill="none" stroke-width="4.3" stroke-linecap="round" stroke-linejoin="round">
<path d="M327.0,390.60 L328.0,390.60 L329.0,390.60 L330.0,390.60 L331.0,390.60 L332.0,390.60 L333.0,390.60 L334.0,390.60 L335.0,390.60 L336.0,390.60 L337.0,390.60 L338.0,390.60 L339.0,390.60 L340.0,390.60 L341.0,390.59 L342.0,390.58 L343.0,390.57 L344.0,390.55 L345.0,390.52 L346.0,390.48 L347.0,390.44 L348.0,390.40 L349.0,390.35 L350.0,390.30 L351.0,390.25 L352.0,390.21 L353.0,390.16 L354.0,390.11 L355.0,390.06 L356.0,390.01 L357.0,389.96 L358.0,389.92 L359.0,389.87 L360.0,389.81 L361.0,389.76 L362.0,389.70 L363.0,389.64 L364.0,389.57 L365.0,389.49 L366.0,389.42 L367.0,389.34 L368.0,389.26 L369.0,389.18 L370.0,389.10 L371.0,389.02 L372.0,388.94 L373.0,388.86 L374.0,388.78 L375.0,388.70 L376.0,388.62 L377.0,388.54 L378.0,388.46 L379.0,388.37 L380.0,388.29 L381.0,388.19 L382.0,388.09 L383.0,387.99 L384.0,387.88 L385.0,387.76 L386.0,387.65 L387.0,387.53 L388.0,387.41 L389.0,387.29 L390.0,387.18 L391.0,387.06 L392.0,386.94 L393.0,386.82 L394.0,386.71 L395.0,386.59 L396.0,386.47 L397.0,386.35 L398.0,386.23 L399.0,386.12 L400.0,386.00 L401.0,385.88 L402.0,385.76 L403.0,385.64 L404.0,385.52 L405.0,385.40 L406.0,385.28 L407.0,385.16 L408.0,385.04 L409.0,384.92 L410.0,384.80 L411.0,384.68 L412.0,384.56 L413.0,384.44 L414.0,384.32 L415.0,384.20 L416.0,384.08 L417.0,383.96 L418.0,383.83 L419.0,383.70 L420.0,383.57 L421.0,383.43 L422.0,383.29 L423.0,383.14 L424.0,382.99 L425.0,382.84 L426.0,382.69 L427.0,382.54 L428.0,382.39 L429.0,382.23 L430.0,382.08 L431.0,381.93 L432.0,381.78 L433.0,381.63 L434.0,381.47 L435.0,381.32 L436.0,381.17 L437.0,381.02 L438.0,380.88 L439.0,380.74 L440.0,380.60 L441.0,380.46 L442.0,380.33 L443.0,380.19 L444.0,380.06 L445.0,379.93 L446.0,379.80 L447.0,379.67 L448.0,379.54 L449.0,379.41 L450.0,379.28 L451.0,379.15 L452.0,379.02 L453.0,378.89 L454.0,378.76 L455.0,378.63 L456.0,378.50 L457.0,378.37 L458.0,378.24 L459.0,378.11 L460.0,377.98 L461.0,377.85 L462.0,377.72 L463.0,377.58 L464.0,377.45 L465.0,377.32 L466.0,377.19 L467.0,377.06 L468.0,376.93 L469.0,376.80 L470.0,376.67 L471.0,376.54 L472.0,376.41 L473.0,376.28 L474.0,376.15 L475.0,376.02 L476.0,375.90 L477.0,375.78 L478.0,375.66 L479.0,375.55 L480.0,375.45 L481.0,375.35 L482.0,375.25 L483.0,375.15 L484.0,375.05 L485.0,374.95 L486.0,374.85 L487.0,374.75 L488.0,374.65 L489.0,374.55 L490.0,374.45 L491.0,374.35 L492.0,374.26 L493.0,374.16 L494.0,374.06 L495.0,373.97 L496.0,373.88 L497.0,373.79 L498.0,373.71 L499.0,373.63 L500.0,373.56 L501.0,373.49 L502.0,373.41 L503.0,373.34 L504.0,373.27 L505.0,373.20 L506.0,373.13 L507.0,373.06 L508.0,372.99 L509.0,372.91 L510.0,372.84 L511.0,372.77 L512.0,372.70 L513.0,372.63 L514.0,372.56 L515.0,372.49 L516.0,372.41 L517.0,372.34 L517.5,372.31" stroke="#0000f0"/>
<path d="M327.0,420.60 L328.0,420.60 L329.0,420.60 L330.0,420.60 L331.0,420.60 L332.0,420.60 L333.0,420.60 L334.0,420.60 L335.0,420.60 L336.0,420.60 L337.0,420.60 L338.0,420.60 L339.0,420.60 L340.0,420.60 L341.0,420.60 L342.0,420.60 L343.0,420.60 L344.0,420.60 L345.0,420.60 L346.0,420.60 L347.0,420.60 L348.0,420.60 L349.0,420.60 L350.0,420.60 L351.0,420.60 L352.0,420.60 L353.0,420.60 L354.0,420.60 L355.0,420.60 L356.0,420.60 L357.0,420.60 L358.0,420.60 L359.0,420.60 L360.0,420.60 L361.0,420.60 L362.0,420.60 L363.0,420.60 L364.0,420.60 L365.0,420.60 L366.0,420.60 L367.0,420.60 L368.0,420.60 L369.0,420.60 L370.0,420.61 L371.0,420.62 L372.0,420.63 L373.0,420.65 L374.0,420.68 L375.0,420.71 L376.0,420.74 L377.0,420.77 L378.0,420.80 L379.0,420.84 L380.0,420.87 L381.0,420.90 L382.0,420.94 L383.0,420.97 L384.0,421.00 L385.0,421.04 L386.0,421.07 L387.0,421.10 L388.0,421.14 L389.0,421.17 L390.0,421.20 L391.0,421.24 L392.0,421.27 L393.0,421.30 L394.0,421.34 L395.0,421.37 L396.0,421.40 L397.0,421.43 L398.0,421.47 L399.0,421.50 L400.0,421.53 L401.0,421.57 L402.0,421.60 L403.0,421.63 L404.0,421.67 L405.0,421.70 L406.0,421.73 L407.0,421.77 L408.0,421.80 L409.0,421.83 L410.0,421.87 L411.0,421.90 L412.0,421.93 L413.0,421.97 L414.0,422.00 L415.0,422.03 L416.0,422.07 L417.0,422.10 L418.0,422.13 L419.0,422.16 L420.0,422.18 L421.0,422.21 L422.0,422.23 L423.0,422.25 L424.0,422.27 L425.0,422.28 L426.0,422.30 L427.0,422.32 L428.0,422.33 L429.0,422.35 L430.0,422.37 L431.0,422.38 L432.0,422.40 L433.0,422.42 L434.0,422.43 L435.0,422.45 L436.0,422.47 L437.0,422.48 L438.0,422.50 L439.0,422.52 L440.0,422.53 L441.0,422.55 L442.0,422.57 L443.0,422.58 L444.0,422.60 L445.0,422.62 L446.0,422.64 L447.0,422.65 L448.0,422.67 L449.0,422.69 L450.0,422.70 L451.0,422.72 L452.0,422.74 L453.0,422.75 L454.0,422.77 L455.0,422.79 L456.0,422.80 L457.0,422.82 L458.0,422.84 L459.0,422.85 L460.0,422.87 L461.0,422.89 L462.0,422.90 L463.0,422.92 L464.0,422.94 L465.0,422.95 L466.0,422.97 L467.0,422.98 L468.0,423.00 L469.0,423.01 L470.0,423.03 L471.0,423.04 L472.0,423.05 L473.0,423.06 L474.0,423.07 L475.0,423.09 L476.0,423.10 L477.0,423.11 L478.0,423.12 L479.0,423.13 L480.0,423.15 L481.0,423.16 L482.0,423.17 L483.0,423.18 L484.0,423.20 L485.0,423.21 L486.0,423.22 L487.0,423.23 L488.0,423.24 L489.0,423.26 L490.0,423.27 L491.0,423.28 L492.0,423.29 L493.0,423.30 L494.0,423.32 L495.0,423.33 L496.0,423.34 L497.0,423.35 L498.0,423.36 L499.0,423.38 L500.0,423.39 L501.0,423.40 L502.0,423.41 L503.0,423.42 L504.0,423.44 L505.0,423.45 L506.0,423.46 L507.0,423.47 L508.0,423.48 L509.0,423.50 L510.0,423.51 L511.0,423.52 L512.0,423.53 L513.0,423.54 L514.0,423.56 L515.0,423.57 L516.0,423.58 L517.0,423.59 L517.5,423.60" stroke="#00bdbd" stroke-width="3.9"/>
<path d="M327.0,426.30 L328.0,426.31 L329.0,426.32 L330.0,426.33 L331.0,426.35 L332.0,426.36 L333.0,426.37 L334.0,426.38 L335.0,426.39 L336.0,426.40 L337.0,426.41 L338.0,426.43 L339.0,426.44 L340.0,426.45 L341.0,426.46 L342.0,426.47 L343.0,426.48 L344.0,426.50 L345.0,426.51 L346.0,426.52 L347.0,426.53 L348.0,426.54 L349.0,426.56 L350.0,426.57 L351.0,426.59 L352.0,426.62 L353.0,426.66 L354.0,426.71 L355.0,426.77 L356.0,426.84 L357.0,426.92 L358.0,426.99 L359.0,427.07 L360.0,427.15 L361.0,427.23 L362.0,427.31 L363.0,427.39 L364.0,427.47 L365.0,427.55 L366.0,427.63 L367.0,427.71 L368.0,427.79 L369.0,427.87 L370.0,427.96 L371.0,428.05 L372.0,428.15 L373.0,428.26 L374.0,428.37 L375.0,428.48 L376.0,428.60 L377.0,428.72 L378.0,428.85 L379.0,428.97 L380.0,429.09 L381.0,429.21 L382.0,429.34 L383.0,429.46 L384.0,429.58 L385.0,429.70 L386.0,429.82 L387.0,429.95 L388.0,430.07 L389.0,430.18 L390.0,430.30 L391.0,430.41 L392.0,430.52 L393.0,430.63 L394.0,430.73 L395.0,430.84 L396.0,430.94 L397.0,431.04 L398.0,431.14 L399.0,431.24 L400.0,431.34 L401.0,431.45 L402.0,431.55 L403.0,431.65 L404.0,431.75 L405.0,431.85 L406.0,431.95 L407.0,432.05 L408.0,432.14 L409.0,432.23 L410.0,432.31 L411.0,432.39 L412.0,432.46 L413.0,432.53 L414.0,432.59 L415.0,432.66 L416.0,432.72 L417.0,432.79 L418.0,432.85 L419.0,432.92 L420.0,432.98 L421.0,433.05 L422.0,433.11 L423.0,433.18 L424.0,433.26 L425.0,433.33 L426.0,433.42 L427.0,433.51 L428.0,433.60 L429.0,433.70 L430.0,433.80 L431.0,433.90 L432.0,434.00 L433.0,434.09 L434.0,434.19 L435.0,434.29 L436.0,434.39 L437.0,434.49 L438.0,434.59 L439.0,434.68 L440.0,434.77 L441.0,434.86 L442.0,434.96 L443.0,435.04 L444.0,435.13 L445.0,435.22 L446.0,435.31 L447.0,435.40 L448.0,435.49 L449.0,435.58 L450.0,435.67 L451.0,435.75 L452.0,435.84 L453.0,435.93 L454.0,436.02 L455.0,436.11 L456.0,436.20 L457.0,436.28 L458.0,436.37 L459.0,436.46 L460.0,436.54 L461.0,436.63 L462.0,436.71 L463.0,436.79 L464.0,436.88 L465.0,436.96 L466.0,437.05 L467.0,437.13 L468.0,437.21 L469.0,437.30 L470.0,437.38 L471.0,437.46 L472.0,437.55 L473.0,437.63 L474.0,437.71 L475.0,437.80 L476.0,437.88 L477.0,437.95 L478.0,438.03 L479.0,438.10 L480.0,438.17 L481.0,438.24 L482.0,438.31 L483.0,438.38 L484.0,438.45 L485.0,438.51 L486.0,438.58 L487.0,438.65 L488.0,438.72 L489.0,438.79 L490.0,438.85 L491.0,438.92 L492.0,438.99 L493.0,439.06 L494.0,439.12 L495.0,439.19 L496.0,439.25 L497.0,439.31 L498.0,439.38 L499.0,439.43 L500.0,439.49 L501.0,439.55 L502.0,439.61 L503.0,439.67 L504.0,439.72 L505.0,439.78 L506.0,439.84 L507.0,439.89 L508.0,439.95 L509.0,440.01 L510.0,440.07 L511.0,440.12 L512.0,440.18 L513.0,440.24 L514.0,440.29 L515.0,440.35 L516.0,440.41 L517.0,440.47 L517.5,440.49" stroke="#00ffff"/>
<path d="M327.0,444.10 L328.0,444.08 L329.0,444.06 L330.0,444.03 L331.0,444.01 L332.0,443.99 L333.0,443.97 L334.0,443.94 L335.0,443.92 L336.0,443.90 L337.0,443.88 L338.0,443.86 L339.0,443.83 L340.0,443.81 L341.0,443.79 L342.0,443.77 L343.0,443.74 L344.0,443.72 L345.0,443.70 L346.0,443.68 L347.0,443.65 L348.0,443.63 L349.0,443.61 L350.0,443.59 L351.0,443.57 L352.0,443.54 L353.0,443.52 L354.0,443.50 L355.0,443.48 L356.0,443.45 L357.0,443.43 L358.0,443.41 L359.0,443.39 L360.0,443.37 L361.0,443.34 L362.0,443.32 L363.0,443.30 L364.0,443.28 L365.0,443.25 L366.0,443.23 L367.0,443.21 L368.0,443.19 L369.0,443.17 L370.0,443.14 L371.0,443.12 L372.0,443.11 L373.0,443.09 L374.0,443.07 L375.0,443.05 L376.0,443.04 L377.0,443.02 L378.0,443.01 L379.0,442.99 L380.0,442.98 L381.0,442.96 L382.0,442.95 L383.0,442.93 L384.0,442.92 L385.0,442.90 L386.0,442.89 L387.0,442.87 L388.0,442.86 L389.0,442.84 L390.0,442.83 L391.0,442.81 L392.0,442.80 L393.0,442.78 L394.0,442.77 L395.0,442.75 L396.0,442.74 L397.0,442.72 L398.0,442.71 L399.0,442.69 L400.0,442.68 L401.0,442.66 L402.0,442.65 L403.0,442.63 L404.0,442.62 L405.0,442.60 L406.0,442.59 L407.0,442.57 L408.0,442.56 L409.0,442.54 L410.0,442.53 L411.0,442.51 L412.0,442.50 L413.0,442.48 L414.0,442.47 L415.0,442.45 L416.0,442.44 L417.0,442.42 L418.0,442.41 L419.0,442.39 L420.0,442.38 L421.0,442.36 L422.0,442.35 L423.0,442.34 L424.0,442.32 L425.0,442.32 L426.0,442.31 L427.0,442.31 L428.0,442.31 L429.0,442.31 L430.0,442.31 L431.0,442.31 L432.0,442.32 L433.0,442.32 L434.0,442.32 L435.0,442.32 L436.0,442.33 L437.0,442.33 L438.0,442.33 L439.0,442.33 L440.0,442.34 L441.0,442.34 L442.0,442.34 L443.0,442.34 L444.0,442.34 L445.0,442.35 L446.0,442.35 L447.0,442.35 L448.0,442.35 L449.0,442.36 L450.0,442.36 L451.0,442.36 L452.0,442.36 L453.0,442.37 L454.0,442.37 L455.0,442.37 L456.0,442.37 L457.0,442.37 L458.0,442.38 L459.0,442.38 L460.0,442.38 L461.0,442.38 L462.0,442.39 L463.0,442.39 L464.0,442.39 L465.0,442.40 L466.0,442.40 L467.0,442.41 L468.0,442.43 L469.0,442.44 L470.0,442.47 L471.0,442.49 L472.0,442.51 L473.0,442.54 L474.0,442.57 L475.0,442.59 L476.0,442.62 L477.0,442.65 L478.0,442.68 L479.0,442.70 L480.0,442.73 L481.0,442.76 L482.0,442.78 L483.0,442.81 L484.0,442.84 L485.0,442.87 L486.0,442.89 L487.0,442.92 L488.0,442.95 L489.0,442.98 L490.0,443.01 L491.0,443.05 L492.0,443.08 L493.0,443.12 L494.0,443.16 L495.0,443.20 L496.0,443.24 L497.0,443.28 L498.0,443.32 L499.0,443.36 L500.0,443.40 L501.0,443.44 L502.0,443.48 L503.0,443.52 L504.0,443.56 L505.0,443.60 L506.0,443.64 L507.0,443.68 L508.0,443.72 L509.0,443.76 L510.0,443.80 L511.0,443.84 L512.0,443.88 L513.0,443.92 L514.0,443.96 L515.0,444.00 L516.0,444.04 L517.0,444.08 L517.5,444.10" stroke="#ff0000"/>
</g>
<g stroke="#141414" fill="none">
<rect x="325.80" y="306.50" width="194.10" height="155.60" stroke-width="1.5"/>
<path d="M322.8,458.5H325.8 M519.9,458.5H516.9 M324.2,450.9H325.8 M519.9,450.9H518.3 M322.8,443.3H325.8 M519.9,443.3H516.9 M324.2,435.7H325.8 M519.9,435.7H518.3 M322.8,428.1H325.8 M519.9,428.1H516.9 M324.2,420.5H325.8 M519.9,420.5H518.3 M322.8,412.9H325.8 M519.9,412.9H516.9 M324.2,405.3H325.8 M519.9,405.3H518.3 M322.8,397.7H325.8 M519.9,397.7H516.9 M324.2,390.1H325.8 M519.9,390.1H518.3 M322.8,382.5H325.8 M519.9,382.5H516.9 M324.2,374.9H325.8 M519.9,374.9H518.3 M322.8,367.3H325.8 M519.9,367.3H516.9 M324.2,359.7H325.8 M519.9,359.7H518.3 M322.8,352.1H325.8 M519.9,352.1H516.9 M324.2,344.5H325.8 M519.9,344.5H518.3 M322.8,336.9H325.8 M519.9,336.9H516.9 M324.2,329.3H325.8 M519.9,329.3H518.3 M322.8,321.7H325.8 M519.9,321.7H516.9 M324.2,314.1H325.8 M519.9,314.1H518.3 M322.8,306.5H325.8 M519.9,306.5H516.9 M325.8,462.1V465.1 M325.8,306.5V309.5 M336.6,462.1V463.7 M336.6,306.5V308.1 M347.4,462.1V465.1 M347.4,306.5V309.5 M358.1,462.1V463.7 M358.1,306.5V308.1 M368.9,462.1V465.1 M368.9,306.5V309.5 M379.7,462.1V463.7 M379.7,306.5V308.1 M390.5,462.1V465.1 M390.5,306.5V309.5 M401.3,462.1V463.7 M401.3,306.5V308.1 M412.1,462.1V465.1 M412.1,306.5V309.5 M422.9,462.1V463.7 M422.9,306.5V308.1 M433.6,462.1V465.1 M433.6,306.5V309.5 M444.4,462.1V463.7 M444.4,306.5V308.1 M455.2,462.1V465.1 M455.2,306.5V309.5 M466.0,462.1V463.7 M466.0,306.5V308.1 M476.8,462.1V465.1 M476.8,306.5V309.5 M487.5,462.1V463.7 M487.5,306.5V308.1 M498.3,462.1V465.1 M498.3,306.5V309.5 M509.1,462.1V463.7 M509.1,306.5V308.1 M519.9,462.1V465.1 M519.9,306.5V309.5" stroke-width="1.2"/>
</g>
<g font-size="8.5" fill="#1e1e1e" stroke="#1e1e1e" stroke-width="0.1">
<text transform="translate(320.30,461.05) scale(0.9,1)" text-anchor="end">0</text>
<text transform="translate(320.30,445.85) scale(0.9,1)" text-anchor="end">10</text>
<text transform="translate(320.30,430.65) scale(0.9,1)" text-anchor="end">20</text>
<text transform="translate(320.30,415.45) scale(0.9,1)" text-anchor="end">30</text>
<text transform="translate(320.30,400.25) scale(0.9,1)" text-anchor="end">40</text>
<text transform="translate(320.30,385.05) scale(0.9,1)" text-anchor="end">50</text>
<text transform="translate(320.30,369.85) scale(0.9,1)" text-anchor="end">60</text>
<text transform="translate(320.30,354.65) scale(0.9,1)" text-anchor="end">70</text>
<text transform="translate(320.30,339.45) scale(0.9,1)" text-anchor="end">80</text>
<text transform="translate(320.30,324.25) scale(0.9,1)" text-anchor="end">90</text>
<text transform="translate(320.30,309.05) scale(0.9,1)" text-anchor="end">100</text>
<text x="325.6" y="473.9" text-anchor="middle">0</text>
<text x="347.2" y="473.9" text-anchor="middle">20</text>
<text x="368.7" y="473.9" text-anchor="middle">40</text>
<text x="390.3" y="473.9" text-anchor="middle">60</text>
<text x="411.9" y="473.9" text-anchor="middle">80</text>
<text x="433.4" y="473.9" text-anchor="middle">100</text>
<text x="455.0" y="473.9" text-anchor="middle">120</text>
<text x="476.6" y="473.9" text-anchor="middle">140</text>
<text x="498.1" y="473.9" text-anchor="middle">160</text>
<text x="519.7" y="473.9" text-anchor="middle">180</text>
</g>
<rect x="187.30" y="60.00" width="3.40" height="3.40" fill="#00ffff"/>
<rect x="187.30" y="71.70" width="3.40" height="3.40" fill="#0000f0"/>
<rect x="187.30" y="83.50" width="3.40" height="3.40" fill="#ff0000"/>
<rect x="342.10" y="54.90" width="3.40" height="3.40" fill="#00ffff"/>
<rect x="342.10" y="66.60" width="3.40" height="3.40" fill="#0000f0"/>
<rect x="342.10" y="78.10" width="3.40" height="3.40" fill="#ff0000"/>
<rect x="116.20" y="313.80" width="3.40" height="3.40" fill="#00bdbd"/>
<rect x="116.20" y="328.00" width="3.40" height="3.40" fill="#0000f0"/>
<rect x="182.90" y="313.90" width="3.40" height="3.40" fill="#00ffff"/>
<rect x="182.90" y="327.70" width="3.40" height="3.40" fill="#ff0000"/>
<rect x="339.20" y="316.00" width="3.40" height="3.40" fill="#00bdbd"/>
<rect x="339.20" y="330.00" width="3.40" height="3.40" fill="#0000f0"/>
<rect x="407.30" y="315.80" width="3.40" height="3.40" fill="#00ffff"/>
<rect x="407.30" y="329.80" width="3.40" height="3.40" fill="#ff0000"/>
<g transform="matrix(0.96995,0.00000,0.00000,1.06845,242.20097,23.45122)"><text x="0" y="0" font-size="27.00" font-weight="bold" fill="#000">CaO</text></g>
<g transform="matrix(0.95484,0.00000,0.00000,1.04474,222.40000,284.04937)"><text x="0" y="0" font-size="27.00" font-weight="bold" fill="#000">C3A:CaO</text></g>
<g transform="matrix(1.04236,0.00000,0.00000,0.98095,5.40225,58.35429)"><text x="0" y="0" font-size="19.00" stroke="#000" stroke-width="0.50" fill="#000">(a)</text></g>
<g transform="matrix(1.01883,0.00000,0.00000,0.98095,280.30230,58.35429)"><text x="0" y="0" font-size="19.00" stroke="#000" stroke-width="0.50" fill="#000">(b)</text></g>
<g transform="matrix(0.99507,0.00000,0.00000,0.98095,5.40247,319.55429)"><text x="0" y="0" font-size="19.00" stroke="#000" stroke-width="0.50" fill="#000">(c)</text></g>
<g transform="matrix(1.01883,0.00000,0.00000,0.95890,280.30230,319.80000)"><text x="0" y="0" font-size="19.00" stroke="#000" stroke-width="0.50" fill="#000">(d)</text></g>
<g transform="matrix(0.96126,0.00000,0.00000,0.93161,124.04977,221.78387)"><text x="0" y="0" font-size="8.50" stroke="#1e1e1e" stroke-width="0.08" fill="#1e1e1e">Time (minutes)</text></g>
<g transform="matrix(1.02652,0.00000,0.00000,0.96680,391.04921,226.77647)"><text x="0" y="0" font-size="9.50" stroke="#1e1e1e" stroke-width="0.08" fill="#1e1e1e">Time (minutes)</text></g>
<g transform="matrix(1.02570,0.00000,0.00000,0.98337,118.74980,488.08857)"><text x="0" y="0" font-size="9.50" stroke="#1e1e1e" stroke-width="0.08" fill="#1e1e1e">Time (minutes)</text></g>
<g transform="matrix(1.02652,0.00000,0.00000,1.00000,391.04921,488.10000)"><text x="0" y="0" font-size="9.50" stroke="#1e1e1e" stroke-width="0.08" fill="#1e1e1e">Time (minutes)</text></g>
<g transform="matrix(0.97143,0.00000,0.00000,1.02811,30.90000,155.40000)"><text x="0" y="0" font-size="9.30" stroke="#1e1e1e" stroke-width="0.08" fill="#1e1e1e" transform="rotate(-90)">Weight percent</text></g>
<g transform="matrix(0.97143,0.00000,0.00000,1.04018,302.90000,155.00000)"><text x="0" y="0" font-size="9.30" stroke="#1e1e1e" stroke-width="0.08" fill="#1e1e1e" transform="rotate(-90)">Weight percent</text></g>
<g transform="matrix(1.01146,0.00000,0.00000,1.03241,30.78857,416.70000)"><text x="0" y="0" font-size="9.30" stroke="#1e1e1e" stroke-width="0.08" fill="#1e1e1e" transform="rotate(-90)">Weight Percent</text></g>
<g transform="matrix(1.03458,0.00000,0.00000,1.03052,303.26571,416.00000)"><text x="0" y="0" font-size="9.30" stroke="#1e1e1e" stroke-width="0.08" fill="#1e1e1e" transform="rotate(-90)">Weight percent</text></g>
<g transform="matrix(1.13976,0.00000,0.00000,0.92827,202.18800,64.35417)"><text x="0" y="0" font-size="8.60" stroke="#1e1e1e" stroke-width="0.20" fill="#1e1e1e">CaO</text></g>
<g transform="matrix(1.13265,0.00000,0.00000,0.96000,202.19709,75.95000)"><text x="0" y="0" font-size="8.60" stroke="#1e1e1e" stroke-width="0.20" fill="#1e1e1e">CaDG</text></g>
<g transform="matrix(1.08499,0.00000,0.00000,0.96000,202.59429,87.40000)"><text x="0" y="0" font-size="8.60" stroke="#1e1e1e" stroke-width="0.20" fill="#1e1e1e">Ca(OH)<tspan font-size="6.88" dy="2.84">2</tspan></text></g>
<g transform="matrix(1.09894,0.00000,0.00000,0.92827,357.09041,59.15417)"><text x="0" y="0" font-size="8.60" stroke="#1e1e1e" stroke-width="0.20" fill="#1e1e1e">CaO</text></g>
<g transform="matrix(1.11091,0.00000,0.00000,0.97698,357.09703,70.95769)"><text x="0" y="0" font-size="8.60" stroke="#1e1e1e" stroke-width="0.20" fill="#1e1e1e">CaDG</text></g>
<g transform="matrix(1.10759,0.00000,0.00000,0.97698,357.09793,82.35769)"><text x="0" y="0" font-size="8.60" stroke="#1e1e1e" stroke-width="0.20" fill="#1e1e1e">Ca(OH)<tspan font-size="6.88" dy="2.84">2</tspan></text></g>
<g transform="matrix(1.07683,0.00000,0.00000,1.09606,131.29481,319.15185)"><text x="0" y="0" font-size="8.60" stroke="#1e1e1e" stroke-width="0.20" fill="#1e1e1e">Ca<tspan font-size="6.88" dy="3.10">3</tspan><tspan dy="-3.10">Al</tspan><tspan font-size="6.88" dy="3.10">2</tspan><tspan dy="-3.10">O</tspan><tspan font-size="6.88" dy="3.10">6</tspan></text></g>
<g transform="matrix(1.14789,0.00000,0.00000,0.97698,131.29615,332.65769)"><text x="0" y="0" font-size="8.60" stroke="#1e1e1e" stroke-width="0.20" fill="#1e1e1e">CaDG</text></g>
<g transform="matrix(1.13976,0.00000,0.00000,1.09606,197.88800,318.74815)"><text x="0" y="0" font-size="8.60" stroke="#1e1e1e" stroke-width="0.20" fill="#1e1e1e">CaO</text></g>
<g transform="matrix(1.10917,0.00000,0.00000,0.97698,197.89583,331.75769)"><text x="0" y="0" font-size="8.60" stroke="#1e1e1e" stroke-width="0.20" fill="#1e1e1e">Ca(OH)<tspan font-size="6.88" dy="2.84">2</tspan></text></g>
<g transform="matrix(1.07683,0.00000,0.00000,0.97698,354.09481,320.60000)"><text x="0" y="0" font-size="8.60" stroke="#1e1e1e" stroke-width="0.20" fill="#1e1e1e">Ca<tspan font-size="6.88" dy="3.10">3</tspan><tspan dy="-3.10">Al</tspan><tspan font-size="6.88" dy="3.10">2</tspan><tspan dy="-3.10">O</tspan><tspan font-size="6.88" dy="3.10">6</tspan></text></g>
<g transform="matrix(1.11741,0.00000,0.00000,0.95258,354.09804,334.15600)"><text x="0" y="0" font-size="8.60" stroke="#1e1e1e" stroke-width="0.20" fill="#1e1e1e">CaDG</text></g>
<g transform="matrix(1.09894,0.00000,0.00000,0.97698,422.09041,320.85769)"><text x="0" y="0" font-size="8.60" stroke="#1e1e1e" stroke-width="0.20" fill="#1e1e1e">CaO</text></g>
<g transform="matrix(1.12432,0.00000,0.00000,0.95258,422.09589,333.90000)"><text x="0" y="0" font-size="8.60" stroke="#1e1e1e" stroke-width="0.20" fill="#1e1e1e">Ca(OH)<tspan font-size="6.88" dy="2.84">2</tspan></text></g>
</svg></body></html>
